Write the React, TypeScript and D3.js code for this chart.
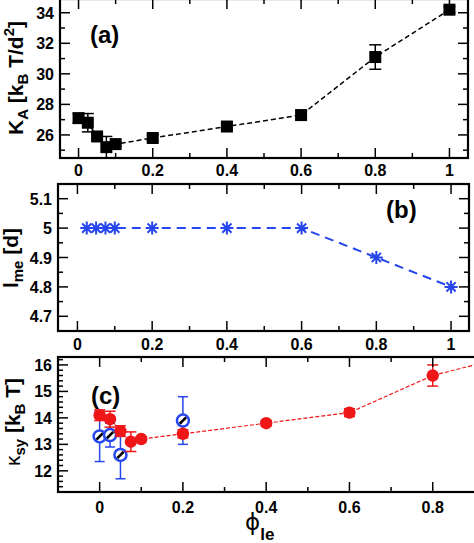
import React from "react";
import * as d3 from "d3";

// Panel (a): area compressibility modulus vs. lipid fraction
const phiA = [0, 0.025, 0.05, 0.075, 0.1, 0.2, 0.4, 0.6, 0.8, 1];
const kA = [27.1, 26.8, 25.9, 25.2, 25.4, 25.8, 26.55, 27.3, 31.1, 34.2];
const kAErr = [0.3, 0.6, 0.2, 0.7, 0.15, 0.2, 0.2, 0.3, 0.8, 0.2];

// Panel (b): membrane thickness
const phiB = [0.025, 0.05, 0.075, 0.1, 0.2, 0.4, 0.6, 0.8, 1];
const lme = [5, 5, 5, 5, 5, 5, 5, 4.9, 4.8];

// Panel (c): bending rigidity, two estimates
const phiC = [0, 0.025, 0.05, 0.075, 0.1, 0.2, 0.4, 0.6, 0.8, 1];
const kSy = [14.1, 13.95, 13.5, 13.1, 13.2, 13.4, 13.8, 14.2, 15.6, 16.4];
const kSyErr = [0.2, 0.3, 0.2, 0.37, 0.1, 0.15, 0.1, 0.15, 0.4, 0.3];
const phiC2 = [0, 0.025, 0.05, 0.2];
const kSy2 = [13.3, 13.35, 12.6, 13.9];
const kSy2Err = [0.95, 0.45, 0.9, 0.9];

// Tick values
const xMajorAB = [0, 0.2, 0.4, 0.6, 0.8, 1];
const xMinorAB = [0.1, 0.3, 0.5, 0.7, 0.9];
const xMajorC = [0, 0.2, 0.4, 0.6, 0.8];
const xMinorC = [-0.1, 0.1, 0.3, 0.5, 0.7];
const yMajorA = [26, 28, 30, 32, 34];
const yMinorA = [25, 27, 29, 31, 33];
const yMajorB = [4.7, 4.8, 4.9, 5, 5.1];
const yMinorB = [4.65, 4.75, 4.85, 4.95, 5.05];
const yMajorC = [12, 13, 14, 15, 16];
const yMinorC = [11.2, 11.4, 11.6, 11.8, 12.2, 12.4, 12.6, 12.8, 13.2, 13.4, 13.6, 13.8, 14.2, 14.4, 14.6, 14.8, 15.2, 15.4, 15.6, 15.8, 16.2];

const FONT = "'Liberation Sans', Arial, Helvetica, sans-serif";
const BLUE = "#2646ee";
const RED = "#ee1616";

const fmt = (v: number) => String(+v.toFixed(2));

type Frame = { left: number; right: number; top: number; bottom: number };

function Axes({
  id, frame, x, y, xMajor, xMinor, yMajor, yMinor, labelGap, children,
}: {
  id: string; frame: Frame; x: d3.ScaleLinear<number, number>; y: d3.ScaleLinear<number, number>;
  xMajor: number[]; xMinor: number[]; yMajor: number[]; yMinor: number[]; labelGap: number;
  children?: React.ReactNode;
}) {
  const { left, right, top, bottom } = frame;
  const M = 10, m = 5;
  return (
    <g>
      <defs>
        <clipPath id={id}>
          <rect x={left} y={top} width={right - left} height={bottom - top} />
        </clipPath>
      </defs>
      <g clipPath={`url(#${id})`}>{children}</g>
      <g stroke="#000" strokeWidth={1.5}>
        {xMajor.map((v) => (
          <g key={"xM" + v}>
            <line x1={x(v)} x2={x(v)} y1={bottom} y2={bottom - M} />
            <line x1={x(v)} x2={x(v)} y1={top} y2={top + M} />
          </g>
        ))}
        {xMinor.map((v) => (
          <g key={"xm" + v}>
            <line x1={x(v)} x2={x(v)} y1={bottom} y2={bottom - m} />
            <line x1={x(v)} x2={x(v)} y1={top} y2={top + m} />
          </g>
        ))}
        {yMajor.map((v) => (
          <g key={"yM" + v}>
            <line x1={left} x2={left + M} y1={y(v)} y2={y(v)} />
            <line x1={right} x2={right - M} y1={y(v)} y2={y(v)} />
          </g>
        ))}
        {yMinor.map((v) => (
          <g key={"ym" + v}>
            <line x1={left} x2={left + m} y1={y(v)} y2={y(v)} />
            <line x1={right} x2={right - m} y1={y(v)} y2={y(v)} />
          </g>
        ))}
      </g>
      <rect x={left} y={top} width={right - left} height={bottom - top} fill="none" stroke="#000" strokeWidth={2.2} />
      <g fontFamily={FONT} fontWeight="bold" fontSize={16} fill="#000">
        {xMajor.map((v) => (
          <text key={"xl" + v} x={x(v)} y={bottom + labelGap} textAnchor="middle">{fmt(v)}</text>
        ))}
        {yMajor.map((v) => (
          <text key={"yl" + v} x={left - 6} y={y(v) + 6} textAnchor="end">{fmt(v)}</text>
        ))}
      </g>
    </g>
  );
}

function ErrorBars({ xs, ys, es, x, y, color, cap, width }: {
  xs: number[]; ys: number[]; es: number[]; x: d3.ScaleLinear<number, number>; y: d3.ScaleLinear<number, number>;
  color: string; cap: number; width: number;
}) {
  return (
    <g stroke={color} strokeWidth={width}>
      {xs.map((v, i) => {
        const cx = x(v), y1 = y(ys[i] + es[i]), y2 = y(ys[i] - es[i]);
        return (
          <g key={i}>
            <line x1={cx} x2={cx} y1={y1} y2={y2} />
            <line x1={cx - cap} x2={cx + cap} y1={y1} y2={y1} />
            <line x1={cx - cap} x2={cx + cap} y1={y2} y2={y2} />
          </g>
        );
      })}
    </g>
  );
}

export default function App() {
  // Panel (a)
  const frA: Frame = { left: 60, right: 468, top: -1, bottom: 158 };
  const xA = d3.scaleLinear().domain([-0.05, 1.05]).range([frA.left, frA.right]);
  const yA = d3.scaleLinear().domain([24.49, 34.9]).range([frA.bottom, frA.top]);
  const lineA = d3.line<number>().x((d, i) => xA(phiA[i])).y((d) => yA(d));

  // Panel (b)
  const frB: Frame = { left: 58, right: 469, top: 184, bottom: 331 };
  const xB = d3.scaleLinear().domain([-0.052, 1.048]).range([frB.left, frB.right]);
  const yB = d3.scaleLinear().domain([4.65, 5.15]).range([frB.bottom, frB.top]);
  const lineB = d3.line<number>().x((d, i) => xB(phiB[i])).y((d) => yB(d));

  // Panel (c): the frame runs past the right edge of the page
  const frC: Frame = { left: 58, right: 516, top: 357, bottom: 492 };
  const xC = d3.scaleLinear().domain([-0.1, 1.0]).range([frC.left, frC.right]);
  const yC = d3.scaleLinear().domain([11.2, 16.3]).range([frC.bottom, frC.top]);
  const lineC = d3.line<number>().x((d, i) => xC(phiC[i])).y((d) => yC(d));

  const star = "M-6.5,0H6.5M0,-6.5V6.5M-4.6,-4.6L4.6,4.6M-4.6,4.6L4.6,-4.6";

  return (
    <svg width={474} height={543} style={{ position: "absolute", left: 0, top: 0, background: "#fff" }}>
      <rect width={474} height={543} fill="#fff" />

      {/* (a) */}
      <Axes id="clipA" frame={frA} x={xA} y={yA} xMajor={xMajorAB} xMinor={xMinorAB} yMajor={yMajorA} yMinor={yMinorA} labelGap={18}>
        <path d={lineA(kA) ?? ""} fill="none" stroke="#000" strokeWidth={1.5} strokeDasharray="5,3" />
        <ErrorBars xs={phiA} ys={kA} es={kAErr} x={xA} y={yA} color="#000" cap={6} width={1.5} />
        {phiA.map((v, i) => (
          <rect key={i} x={xA(v) - 6} y={yA(kA[i]) - 6} width={12} height={12} fill="#000" />
        ))}
      </Axes>
      <text transform="translate(23,78) rotate(-90)" textAnchor="middle" fontFamily={FONT} fontWeight="bold" fontSize={21}>
        K<tspan fontSize={15} dy={5}>A</tspan>
        <tspan dy={-5}> [k</tspan>
        <tspan fontSize={15} dy={5}>B</tspan>
        <tspan dy={-5}> T/d</tspan>
        <tspan fontSize={15} dy={-9}>2</tspan>
        <tspan dy={9}>]</tspan>
      </text>
      <text x={90} y={43} fontFamily={FONT} fontWeight="bold" fontSize={24}>(a)</text>

      {/* (b) */}
      <Axes id="clipB" frame={frB} x={xB} y={yB} xMajor={xMajorAB} xMinor={xMinorAB} yMajor={yMajorB} yMinor={yMinorB} labelGap={19}>
        <path d={lineB(lme) ?? ""} fill="none" stroke={BLUE} strokeWidth={2} strokeDasharray="9,6" />
        {phiB.map((v, i) => (
          <path key={i} d={star} transform={`translate(${xB(v)},${yB(lme[i])})`} stroke={BLUE} strokeWidth={2} fill="none" />
        ))}
      </Axes>
      <text transform="translate(18,258) rotate(-90)" textAnchor="middle" fontFamily={FONT} fontWeight="bold" fontSize={21}>
        l<tspan fontSize={15} dy={5}>me</tspan>
        <tspan dy={-5}> [d]</tspan>
      </text>
      <text x={386} y={218} fontFamily={FONT} fontWeight="bold" fontSize={24}>(b)</text>

      {/* (c) */}
      <Axes id="clipC" frame={frC} x={xC} y={yC} xMajor={xMajorC} xMinor={xMinorC} yMajor={yMajorC} yMinor={yMinorC} labelGap={21}>
        <path d={lineC(kSy) ?? ""} fill="none" stroke={RED} strokeWidth={1.2} strokeDasharray="4,2" />
        <ErrorBars xs={phiC2} ys={kSy2} es={kSy2Err} x={xC} y={yC} color={BLUE} cap={5} width={1.5} />
        {phiC2.map((v, i) => (
          <g key={i} transform={`translate(${xC(v)},${yC(kSy2[i])})`}>
            <circle r={6} fill="#fff" stroke={BLUE} strokeWidth={2.5} />
            <line x1={-3.2} y1={3.2} x2={3.2} y2={-3.2} stroke="#000" strokeWidth={2.6} />
          </g>
        ))}
        <ErrorBars xs={phiC} ys={kSy} es={kSyErr} x={xC} y={yC} color={RED} cap={5.5} width={1.5} />
        {phiC.map((v, i) => (
          <circle key={i} cx={xC(v)} cy={yC(kSy[i])} r={6.2} fill={RED} />
        ))}
      </Axes>
      <text transform="translate(20,422) rotate(-90)" textAnchor="middle" fontFamily={FONT} fontWeight="bold" fontSize={21}>
        <tspan fontWeight="normal">κ</tspan>
        <tspan fontSize={15} dy={5}>sy</tspan>
        <tspan dy={-5}> [k</tspan>
        <tspan fontSize={15} dy={5}>B</tspan>
        <tspan dy={-5}> T]</tspan>
      </text>
      <text x={91} y={404} fontFamily={FONT} fontWeight="bold" fontSize={24}>(c)</text>

      {/* shared x label */}
      <text x={245} y={530} fontFamily={FONT} fontSize={23}>
        <tspan fontFamily="'DejaVu Sans', sans-serif">ϕ</tspan>
        <tspan fontSize={17} fontWeight="bold" dy={10}>le</tspan>
      </text>
    </svg>
  );
}
